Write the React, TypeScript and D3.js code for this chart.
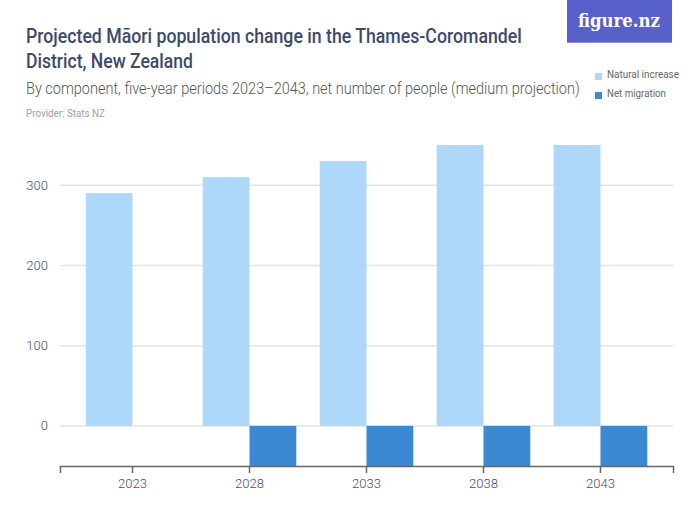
import * as d3 from "d3";
import React, { useEffect, useRef } from "react";

const years = ["2023", "2028", "2033", "2038", "2043"];
const naturalIncrease = [290, 310, 330, 350, 350];
const netMigration = [0, -50, -50, -50, -50];
const seriesNames = ["Natural increase", "Net migration"];
const seriesColors = ["#aed8fa", "#3b89d3"];
const yTicks = [0, 100, 200, 300];

const W = 700;
const H = 525;

export default function App() {
  const ref = useRef<SVGSVGElement | null>(null);

  useEffect(() => {
    const svg = d3.select(ref.current);
    svg.selectAll("*").remove();

    const x0 = d3
      .scaleBand<string>()
      .domain(years)
      .range([60, 673])
      .paddingInner(0.2)
      .paddingOuter(0.22);
    const x1 = d3
      .scaleBand<string>()
      .domain(seriesNames)
      .range([0, x0.bandwidth()]);
    const y = d3.scaleLinear().domain([-50, 350]).range([466, 145]);

    // gridlines + y labels
    const grid = svg.append("g");
    grid
      .selectAll("line")
      .data(yTicks)
      .enter()
      .append("line")
      .attr("x1", 60)
      .attr("x2", 673)
      .attr("y1", (d) => y(d))
      .attr("y2", (d) => y(d))
      .attr("stroke", "#e3e3e3")
      .attr("stroke-width", 1.5);
    grid
      .selectAll("text")
      .data(yTicks)
      .enter()
      .append("text")
      .attr("x", 48)
      .attr("y", (d) => y(d))
      .attr("dy", "0.35em")
      .attr("text-anchor", "end")
      .attr("font-family", "Roboto")
      .attr("font-weight", 300)
      .attr("font-size", 13)
      .attr("fill", "#44506d")
      .text((d) => d);

    // bars
    const rows = years.map((yr, i) => ({
      year: yr,
      values: [naturalIncrease[i], netMigration[i]],
    }));
    const groups = svg
      .append("g")
      .selectAll("g")
      .data(rows)
      .enter()
      .append("g")
      .attr("transform", (d) => `translate(${x0(d.year)},0)`);
    groups
      .selectAll("rect")
      .data((d) => d.values.map((v, k) => ({ v, k })))
      .enter()
      .append("rect")
      .attr("x", (d) => x1(seriesNames[d.k]) as number)
      .attr("width", x1.bandwidth())
      .attr("y", (d) => y(Math.max(0, d.v)))
      .attr("height", (d) => Math.abs(y(d.v) - y(0)))
      .attr("fill", (d) => seriesColors[d.k]);

    // x axis
    const xAxis = svg
      .append("g")
      .attr("transform", `translate(0,${y(-50)})`)
      .call(d3.axisBottom(x0).tickSizeOuter(0).tickSize(7).tickPadding(6));
    xAxis.select(".domain").attr("stroke", "#666").attr("stroke-width", 1.5);
    xAxis.selectAll(".tick line").attr("stroke", "#666").attr("stroke-width", 1.5);
    xAxis
      .selectAll(".tick text")
      .attr("font-family", "Roboto")
      .attr("font-weight", 300)
      .attr("font-size", 13)
      .attr("fill", "#44506d");

    // squeeze a text horizontally so it spans `len` px
    const addText = (
      txt: string,
      x: number,
      yy: number,
      size: number,
      weight: number,
      fill: string,
      len: number,
      family = "Roboto"
    ) => {
      const t = svg
        .append("text")
        .attr("font-family", family)
        .attr("font-size", size)
        .attr("font-weight", weight)
        .attr("fill", fill)
        .text(txt);
      const w = (t.node() as SVGTextElement).getComputedTextLength() || len;
      t.attr("transform", `translate(${x},${yy}) scale(${len / w},1)`);
      return t;
    };

    addText("Projected Māori population change in the Thames-Coromandel", 26, 43, 20, 500, "#3d4a6a", 496);
    addText("District, New Zealand", 26, 68, 20, 500, "#3d4a6a", 167);
    addText(
      "By component, five-year periods 2023–2043, net number of people (medium projection)",
      26,
      94,
      16,
      300,
      "#555",
      554
    );
    addText("Provider: Stats NZ", 26, 117, 10.5, 400, "#a0a0a0", 79);

    // legend
    seriesNames.forEach((name, i) => {
      svg
        .append("rect")
        .attr("x", 595)
        .attr("y", 73 + i * 19)
        .attr("width", 7)
        .attr("height", 7)
        .attr("fill", seriesColors[i]);
      addText(name, 607, 77.5 + i * 19, 11, 400, "#666", i === 0 ? 72 : 59);
    });

    // logo
    svg
      .append("rect")
      .attr("x", 567)
      .attr("y", 0)
      .attr("width", 105)
      .attr("height", 43)
      .attr("fill", "#5860c9");
    svg
      .append("line")
      .attr("x1", 567)
      .attr("x2", 672)
      .attr("y1", 42.5)
      .attr("y2", 42.5)
      .attr("stroke", "#8c91dc");
    addText("figure.nz", 578, 27, 19, 700, "#fff", 82, "DejaVu Serif");
  }, []);

  return (
    <svg
      ref={ref}
      width={W}
      height={H}
      style={{ position: "absolute", left: 0, top: 0, background: "#fff" }}
    />
  );
}
